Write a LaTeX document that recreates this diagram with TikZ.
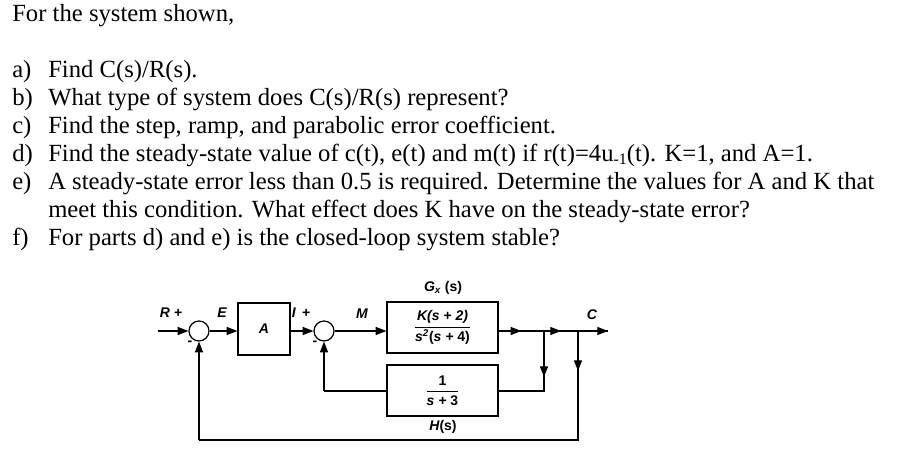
\documentclass[tikz,border=0pt]{standalone}
\usepackage{amsmath}
\usepackage{fontspec}
\setmainfont{Liberation Serif}
\newfontfamily\dsans{Liberation Sans}
\usetikzlibrary{arrows.meta,calc}
\begin{document}
\begin{tikzpicture}[x=0.75pt,y=-0.75pt,
  txt/.style={anchor=base west,inner sep=0,font=\fontsize{18.5}{22}\selectfont},
  blk/.style={draw,line width=0.9pt,minimum width=111*0.75pt,minimum height=51*0.75pt,inner sep=0,font=\dsans\bfseries\fontsize{10.5}{12}\selectfont},
  sumj/.style={draw,circle,line width=0.9pt,minimum size=20*0.75pt,inner sep=0},
  lab/.style={font=\dsans\bfseries\itshape\fontsize{10.5}{12}\selectfont,inner sep=0},
  ln/.style={line width=0.9pt},
  ar/.style={ln,-{Triangle[length=8pt,width=6pt]}}]
\useasboundingbox (0,0) rectangle (914,459);
\node[txt] (t0) at (12,22) {For the system shown,};
\node[txt] (ta) at (12,78) {a)};\node[txt] (ta2) at (48,78) {Find C(s)/R(s).};
\node[txt] (tb) at (12,106) {b)};\node[txt] (tb2) at (48,106) {What type of system does C(s)/R(s) represent?};
\node[txt] (tc) at (12,134) {c)};\node[txt] (tc2) at (48,134) {Find the step, ramp, and parabolic error coefficient.};
\node[txt] (td) at (12,162) {d)};\node[txt] (td2) at (48,162) {Find the steady-state value of c(t), e(t) and m(t) if r(t)=4u\raisebox{-0.25ex}{\fontsize{12}{14}\selectfont -1}(t). K=1, and A=1.};
\node[txt] (te) at (12,190) {e)};\node[txt] (te2) at (48,190) {A steady-state error less than 0.5 is required. Determine the values for A and K that};
\node[txt] (te3) at (48,218) {meet this condition. What effect does K have on the steady-state error?};
\node[txt] (tf) at (12,246) {f)};\node[txt] (tf2) at (48,246) {For parts d) and e) is the closed-loop system stable?};
% diagram
\coordinate (in) at (158,331);
\node[sumj] (s1) at (199,331) {};
\node[blk,minimum width=52*0.75pt,minimum height=52*0.75pt,font=\dsans\bfseries\itshape\fontsize{10.5}{12}\selectfont] (A) at (264,329) {A};
\node[sumj] (s2) at (324,331) {};
\node[blk] (G) at (442.5,327.5) {$\dfrac{\text{\itshape K(s + 2)}}{\text{\itshape s\textsuperscript{2}\upshape(\itshape s + \upshape 4)}}$};
\node[blk] (H) at (442.5,390.5) {$\dfrac{\text{1}}{\text{\itshape s + \upshape 3}}$};
\coordinate (b1) at (544,331);
\coordinate (b2) at (578,331);
\coordinate (out) at (608,331);
\draw[ar] (in) -- (s1.west);
\draw[ar] (s1.east) -- (A.west|-s1);
\draw[ar] (A.east|-s2) -- (s2.west);
\draw[ar] (s2.east) -- (G.west|-s2);
\draw[ar] (G.east|-b1) -- ($(G.east|-b1)!0.5!(b1)$);
\draw[ln] (G.east|-b1) -- (b1);
\draw[ar] (b1) -- ($(b1)!0.5!(b2)$);
\draw[ln] (b1) -- (out);
\draw[ar] (b2) -- (out);
\draw[ar] (b1) -- (544,377);
\draw[ln] (b1) -- (544,391) -- (H.east|-0,391);
\draw[ln] (H.west|-0,391) -- (324,391);
\draw[ar] (324,391) -- (s2.south);
\draw[ar] (b2) -- (578,371);
\draw[ln] (b2) -- (578,440) -- (199,440);
\draw[ar] (199,440) -- (s1.south);
\node[lab] (lR) at (171,313) {R +};
\node[lab] (lE) at (222,313) {E};
\node[lab] (lI) at (301,313) {I\, +};
\node[lab] (lM) at (362,314) {M};
\node[lab] (lC) at (592,315) {C};
\node[lab] (m1) at (190,343) {-};
\node[lab] (m2) at (315,343) {-};
\node[lab] (lG) at (443,288) {G\textsubscript{x} \upshape(s)};
\node[lab] (lH) at (443,427) {H\upshape(s)};
\end{tikzpicture}
\end{document}
